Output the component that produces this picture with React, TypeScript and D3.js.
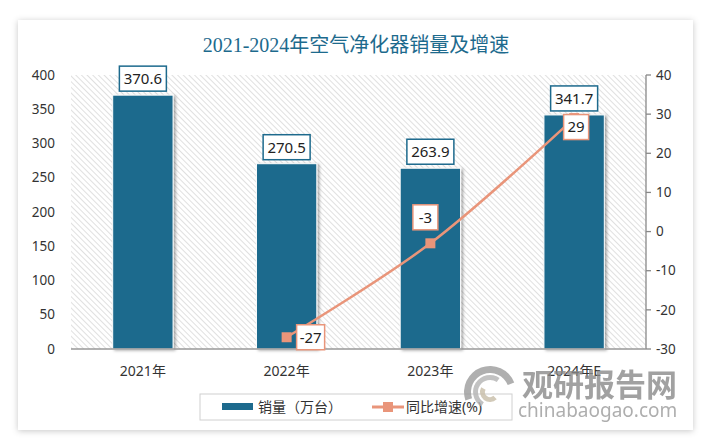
import React from 'react'
import * as d3 from 'd3'

const years = ['2021年', '2022年', '2023年', '2024年E']
const sales = [370.6, 270.5, 263.9, 341.7]
const growthYears = ['2022年', '2023年', '2024年E']
const growth = [-27, -3, 29]
const leftTicks = [0, 50, 100, 150, 200, 250, 300, 350, 400]
const rightTicks = [-30, -20, -10, 0, 10, 20, 30, 40]

const W = 712
const H = 447
const plot = { left: 71, right: 646, top: 75, bottom: 349 }
const barColor = '#1d6a8d'
const lineColor = '#e9957a'
const font = '"Noto Sans", "Noto Sans CJK SC", sans-serif'

const App = () => {
  const x = d3.scaleBand().domain(years).range([plot.left, plot.right]).paddingInner(0.58).paddingOuter(0.29)
  const yL = d3.scaleLinear().domain([0, 400]).range([plot.bottom, plot.top])
  const yR = d3.scaleLinear().domain([-30, 40]).range([plot.bottom, plot.top])
  const cx = (c: string) => (x(c) ?? 0) + x.bandwidth() / 2

  const line = d3
    .line<number>()
    .x((d, i) => cx(growthYears[i]))
    .y((d) => yR(d))
    .curve(d3.curveCatmullRom.alpha(0.5))

  // label offsets relative to the point, for the three growth labels
  const growthLabelPos = [
    { dx: 24, dy: 0 },
    { dx: -5, dy: -26 },
    { dx: 2, dy: 9 },
  ]

  // watermark swirl arcs
  const arc = d3.arc()
  const logo = [
    { inner: 19, outer: 26, start: -1.9, end: 1.2, fill: '#9c9c9c' },
    { inner: 12, outer: 17, start: -2.6, end: 0.6, fill: '#b4b4b4' },
    { inner: 5, outer: 10, start: 2.4, end: 5.2, fill: '#c8bda8' },
  ]

  return (
    <svg width={W} height={H} style={{ position: 'absolute', left: 0, top: 0 }}>
      <defs>
        <filter id="cardShadow" x="-5%" y="-5%" width="110%" height="110%">
          <feDropShadow dx="0" dy="1" stdDeviation="3" floodColor="#000" floodOpacity="0.22" />
        </filter>
        <filter id="barShadow" x="-20%" y="-10%" width="140%" height="120%">
          <feDropShadow dx="2" dy="1" stdDeviation="1.5" floodColor="#000" floodOpacity="0.35" />
        </filter>
        <pattern id="hatch" width="4" height="4" patternUnits="userSpaceOnUse" patternTransform="rotate(-45)">
          <rect width="4" height="4" fill="#fff" />
          <line x1="0" y1="0" x2="0" y2="4" stroke="#d8d8d8" strokeWidth="1.6" />
        </pattern>
      </defs>
      <rect x={0} y={0} width={W} height={H} fill="#fff" />
      <rect x={18} y={20} width={675} height={410} fill="#fff" filter="url(#cardShadow)" />

      <text x={356} y={52} textAnchor="middle" fontSize={20} fill="#1d6a8d"
        fontFamily='"Liberation Serif", "Noto Sans CJK SC", serif'>
        2021-2024年空气净化器销量及增速
      </text>

      {/* hatched plot area */}
      <rect x={plot.left} y={plot.top} width={plot.right - plot.left} height={plot.bottom - plot.top} fill="url(#hatch)" />

      {/* left axis labels */}
      {leftTicks.map((t) => (
        <text key={t} x={55} y={yL(t)} dy="0.35em" textAnchor="end" fontSize={13.5} fill="#333" fontFamily={font}>
          {t}
        </text>
      ))}

      {/* right axis */}
      <line x1={plot.right} x2={plot.right} y1={plot.top} y2={plot.bottom} stroke="#888" strokeWidth={1.3} />
      {rightTicks.map((t) => (
        <g key={t}>
          <line x1={plot.right} x2={plot.right + 5} y1={yR(t)} y2={yR(t)} stroke="#888" strokeWidth={1.3} />
          <text x={plot.right + 10} y={yR(t)} dy="0.35em" fontSize={13.5} fill="#333" fontFamily={font}>
            {t}
          </text>
        </g>
      ))}

      {/* bars */}
      {sales.map((v, i) => (
        <rect key={years[i]} x={x(years[i])} y={yL(v)} width={x.bandwidth()} height={plot.bottom - yL(v)}
          fill={barColor} stroke="#fff" strokeWidth={1} filter="url(#barShadow)" />
      ))}

      {/* x axis */}
      <line x1={plot.left} x2={plot.right} y1={plot.bottom} y2={plot.bottom} stroke="#999" strokeWidth={1.5} />
      {years.map((c) => (
        <text key={c} x={cx(c)} y={376} textAnchor="middle" fontSize={14} fill="#333" fontFamily={font}>
          {c}
        </text>
      ))}

      {/* bar value labels */}
      {sales.map((v, i) => {
        const w = 47
        const h = 25
        const bx = cx(years[i]) - w / 2
        const by = yL(v) - h - 4
        return (
          <g key={'l' + i}>
            <rect x={bx} y={by} width={w} height={h} fill="#fff" stroke={barColor} strokeWidth={1.5} />
            <text x={cx(years[i])} y={by + h / 2} dy="0.36em" textAnchor="middle" fontSize={15} fill="#222" fontFamily={font}>
              {v}
            </text>
          </g>
        )
      })}

      {/* growth line */}
      <path d={line(growth) ?? ''} fill="none" stroke={lineColor} strokeWidth={2.5} />
      {growth.map((v, i) => (
        <rect key={'m' + i} x={cx(growthYears[i]) - 5} y={yR(v) - 5} width={10} height={10} fill={lineColor} />
      ))}
      {growth.map((v, i) => {
        const lx = cx(growthYears[i]) + growthLabelPos[i].dx
        const ly = yR(v) + growthLabelPos[i].dy
        const w = String(v).length > 2 ? 28 : 25
        const h = 25
        return (
          <g key={'g' + i}>
            <rect x={lx - w / 2} y={ly - h / 2} width={w} height={h} fill="#fff" stroke={lineColor} strokeWidth={1.5} />
            <text x={lx} y={ly} dy="0.36em" textAnchor="middle" fontSize={15} fill="#222" fontFamily={font}>
              {v}
            </text>
          </g>
        )
      })}

      {/* legend */}
      <rect x={200} y={394} width={312} height={26} fill="#fff" stroke="#d0d0d0" strokeWidth={1} />
      <rect x={222} y={403} width={31} height={7} fill={barColor} />
      <text x={258} y={407} dy="0.35em" fontSize={14} fill="#333" fontFamily={font}>销量（万台）</text>
      <line x1={372} x2={404} y1={407} y2={407} stroke={lineColor} strokeWidth={3} />
      <rect x={383} y={402} width={10} height={10} fill={lineColor} />
      <text x={406} y={407} dy="0.35em" fontSize={14} fill="#333" fontFamily={font}>同比增速(%)</text>

      {/* watermark */}
      <g opacity={0.8}>
        <g transform="translate(490,392)">
          {logo.map((a, i) => (
            <path key={i} fill={a.fill}
              d={arc({ innerRadius: a.inner, outerRadius: a.outer, startAngle: a.start, endAngle: a.end }) ?? ''} />
          ))}
        </g>
        <text x={522} y={396} fontSize={31} fontWeight={700} fill="#8a8a8a" fontFamily='"Noto Sans CJK SC", sans-serif'>
          观研报告网
        </text>
        <text x={518} y={417} fontSize={19} fill="#9a9a9a" fontFamily='"Noto Sans", sans-serif'>
          chinabaogao.com
        </text>
      </g>
    </svg>
  )
}

export default App
